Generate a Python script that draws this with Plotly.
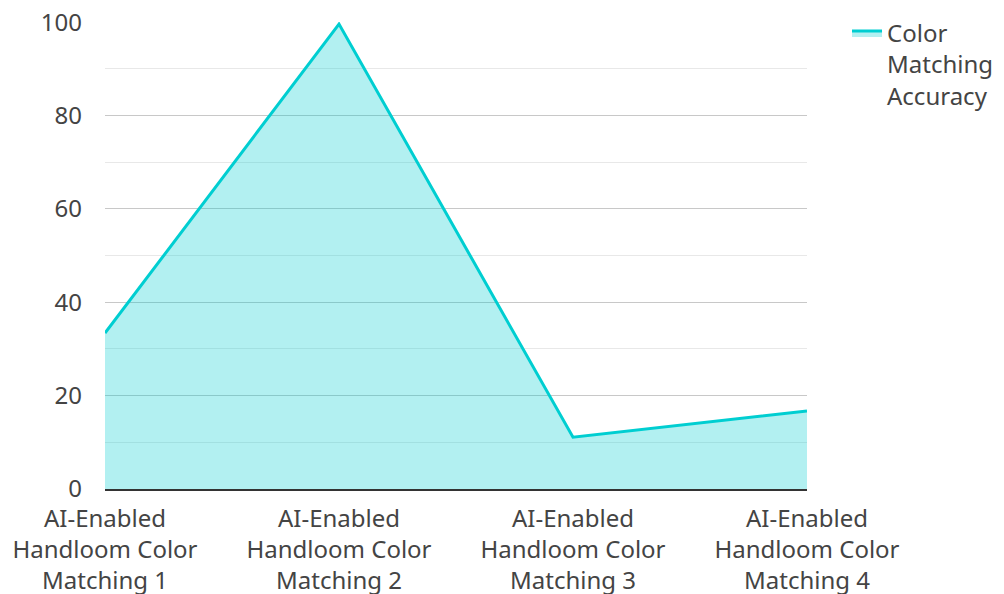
import plotly.graph_objects as go

categories = ["AI-Enabled<br>Handloom Color<br>Matching 1",
              "AI-Enabled<br>Handloom Color<br>Matching 2",
              "AI-Enabled<br>Handloom Color<br>Matching 3",
              "AI-Enabled<br>Handloom Color<br>Matching 4"]
accuracy = [33.4, 99.6, 11.1, 16.7]
series_name = "Color<br>Matching<br>Accuracy"
y_ticks = [0, 20, 40, 60, 80, 100]

fig = go.Figure()
fig.add_trace(go.Scatter(
    x=categories, y=accuracy, name=series_name, mode="lines",
    fill="tozeroy", fillcolor="rgba(0,206,209,0.3)",
    line=dict(color="#00CED1", width=3),
))

fig.update_layout(
    width=996, height=586,
    margin=dict(l=97, r=197, t=14, b=105, autoexpand=False),
    paper_bgcolor="white", plot_bgcolor="white",
    font=dict(family="Noto Sans", size=24, color="#444"),
    showlegend=True,
    legend=dict(x=1.057, y=1.024, xanchor="left", yanchor="top",
                valign="top", font=dict(size=24, color="#444")),
    xaxis=dict(range=[0, 3], showgrid=False, automargin=False,
               showline=True, linecolor="#333", linewidth=2,
               ticks="", ticklabelstandoff=7, ticklabeloverflow="allow",
               tickfont=dict(size=24, color="#444")),
    yaxis=dict(range=[0, 100.05], tickvals=y_ticks, automargin=False,
               gridcolor="#c8c8c8", gridwidth=1, zeroline=False,
               showline=False, ticks="", ticklabelstandoff=22,
               ticklabeloverflow="allow",
               tickfont=dict(size=24, color="#444"),
               minor=dict(tickvals=[10, 30, 50, 70, 90], showgrid=True,
                          gridcolor="#e8e8e8", gridwidth=1)),
)
fig.write_html("out.html")
